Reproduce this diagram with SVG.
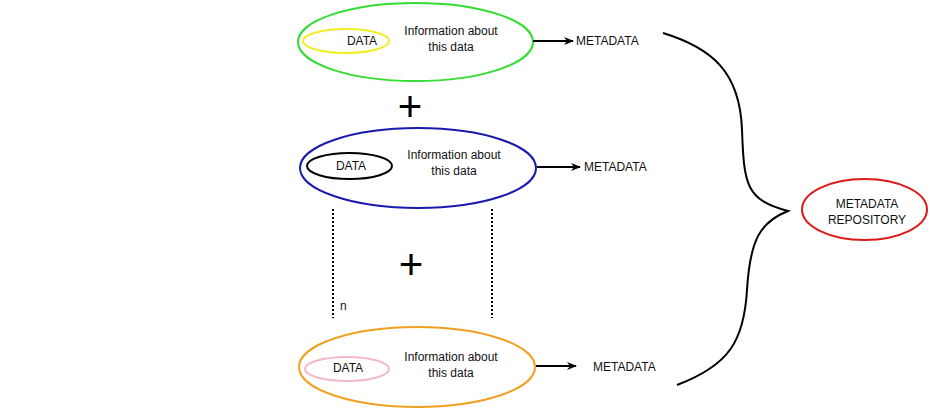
<svg xmlns="http://www.w3.org/2000/svg" width="930" height="409" viewBox="0 0 930 409">
<style>
text{font-family:"Liberation Sans",Arial,sans-serif;font-size:12px;fill:#111}
.c{text-anchor:middle}
.big{fill:none;stroke-width:2}
.plus{font-size:42px;text-anchor:middle;fill:#000}
.conn{stroke:#000;stroke-width:2;fill:none}
.dot{stroke:#000;stroke-width:2;stroke-dasharray:2 2;fill:none}
</style>
<defs>
<marker id="ah" markerWidth="10" markerHeight="8" refX="9" refY="4" orient="auto" markerUnits="userSpaceOnUse">
<path d="M0,0 L10,4 L0,8 L3,4 Z" fill="#000"/>
</marker>
</defs>
<rect width="930" height="409" fill="#fff"/>
<g id="node-green">
<ellipse cx="415.5" cy="42" rx="117.5" ry="39" class="big" stroke="#33dd33"/>
<ellipse cx="346" cy="41" rx="43" ry="12" class="big" stroke="#eeee22"/>
<text x="362" y="45" class="c">DATA</text>
<text x="451" y="35" class="c">Information about</text>
<text x="451" y="51" class="c">this data</text>
</g>
<g id="node-blue">
<ellipse cx="418" cy="168" rx="118" ry="40" class="big" stroke="#1a1ab0"/>
<ellipse cx="349.5" cy="166" rx="42.5" ry="13" class="big" stroke="#000"/>
<text x="351" y="170" class="c">DATA</text>
<text x="454" y="159" class="c">Information about</text>
<text x="454" y="175" class="c">this data</text>
</g>
<g id="node-orange">
<ellipse cx="417" cy="367" rx="118" ry="40" class="big" stroke="#f0a020"/>
<ellipse cx="347" cy="369" rx="42" ry="12" class="big" stroke="#f4b8c8"/>
<text x="348" y="372" class="c">DATA</text>
<text x="451" y="361" class="c">Information about</text>
<text x="451" y="377" class="c">this data</text>
</g>
<g id="node-repository">
<ellipse cx="864.5" cy="209.5" rx="62.5" ry="30.5" class="big" stroke="#dd1a1a"/>
<text x="867" y="208" class="c">METADATA</text>
<text x="867" y="224" class="c">REPOSITORY</text>
</g>
<g id="labels">
<text x="576" y="45">METADATA</text>
<text x="584" y="171">METADATA</text>
<text x="593" y="371">METADATA</text>
<text x="410" y="121" class="plus">+</text>
<text x="411" y="279" class="plus">+</text>
<text x="340" y="310">n</text>
</g>
<g id="connectors">
<line x1="533" y1="41" x2="573" y2="41" class="conn" marker-end="url(#ah)"/>
<line x1="537" y1="167" x2="580" y2="167" class="conn" marker-end="url(#ah)"/>
<line x1="536" y1="366" x2="576" y2="366" class="conn" marker-end="url(#ah)"/>
<line x1="333" y1="209" x2="333" y2="318" class="dot"/>
<line x1="492" y1="209" x2="492" y2="318" class="dot"/>
<path d="M663,33 C712,48 740,72 742,130 C744,185 746,200 788,211 C760,222 750,240 747,290 C744,340 730,365 677,385" class="conn"/>
</g>
</svg>
